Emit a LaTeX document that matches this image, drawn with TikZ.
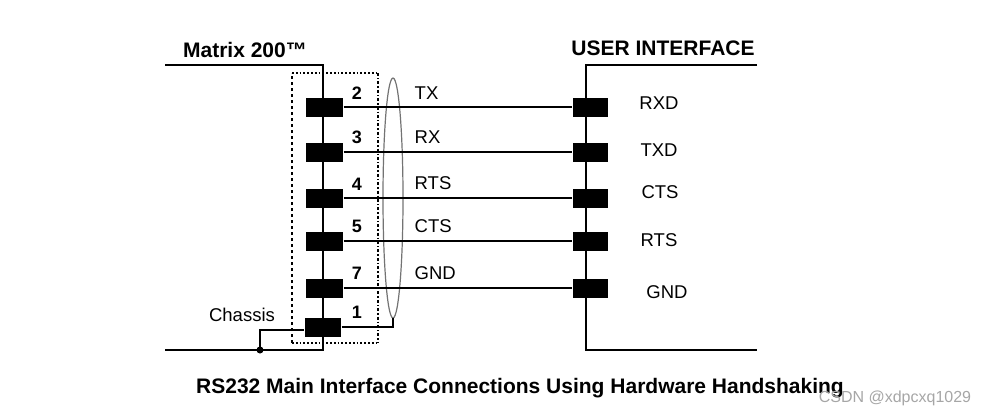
\documentclass[tikz,border=0pt]{standalone}
\usepackage{fontspec}
\setmainfont{Liberation Sans}
\begin{document}
\begin{tikzpicture}[x=1pt,y=-1pt,line width=1.4pt,
  pin/.style={fill=black,draw=none,minimum width=37pt,minimum height=19pt,inner sep=0pt},
  lab/.style={font=\fontsize{18.5}{20}\selectfont,anchor=west,inner sep=0pt},
  rlab/.style={font=\fontsize{18.5}{20}\selectfont,inner sep=0pt},
  num/.style={font=\bfseries\fontsize{18}{20}\selectfont,inner sep=0pt},
  head/.style={font=\bfseries\fontsize{21}{24}\selectfont,inner sep=0pt}]
\useasboundingbox (0,0) rectangle (983,415);
% left housing
\draw (165,65) -- (323,65) -- (323,350) -- (165,350);
% right housing
\draw (757,65) -- (586,65) -- (586,350) -- (757,350);
% shield box
\draw[dashed,line width=1.2pt] (292,343) -- (292,73);
\draw[dotted,line width=1.8pt] (292,73) -- (378,73);
\draw[dotted,line width=1.8pt] (292,343) -- (378,343);
\draw[dashdotted,line width=1.2pt] (378,73) -- (378,343);
% cable shield ellipse
\draw[black!55,line width=1.2pt] (393,198) ellipse [x radius=10, y radius=120];
% pins
\foreach \n/\y in {2/107,3/152,4/198,5/241,7/288}{
  \node[pin] (L\n) at (324.5,\y) {};
}
\node[pin,minimum width=36pt] (L1) at (323,327) {};
\foreach \n/\y in {a/107,b/152,c/198,d/241,e/288}{
  \node[pin,minimum width=35pt] (R\n) at (590.5,\y) {};
}
\draw (L2.east) -- (Ra.west);
\draw (L3.east) -- (Rb.west);
\draw (L4.east) -- (Rc.west);
\draw (L5.east) -- (Rd.west);
\draw (L7.east) -- (Re.west);
\coordinate (sh) at (393,327);
\coordinate (eb) at (393,318);
\draw (L1.east) -- (sh) -- (eb);
% chassis
\coordinate (ch) at (260,350);
\coordinate (chu) at (260,330);
\fill (ch) circle (3.5);
\draw (ch) -- (chu) -- (L1.west |- chu);
\node[rlab] (chl) at (242,315) {Chassis};
% numbers
\foreach \n/\y in {2/93,3/137,4/184,5/226,7/273,1/312}{
  \node[num] at (357,\y) {\n};
}
\node[lab] at (414,93) {TX};
\node[lab] at (414,137) {RX};
\node[lab] at (414,183) {RTS};
\node[lab] at (414,226) {CTS};
\node[lab] at (414,273) {GND};
\node[rlab] at (659,103) {RXD};
\node[rlab] at (659,150) {TXD};
\node[rlab] at (660,192) {CTS};
\node[rlab] at (659,240) {RTS};
\node[rlab] at (667,292) {GND};
\node[head] at (245,50) {Matrix 200™};
\node[head] at (663,48) {USER INTERFACE};
\node[head] at (520,388) {RS232 Main Interface Connections Using Hardware Handshaking};
\node[font=\fontsize{16}{18}\selectfont,text=black!35] at (895,398) {CSDN @xdpcxq1029};
\end{tikzpicture}
\end{document}
